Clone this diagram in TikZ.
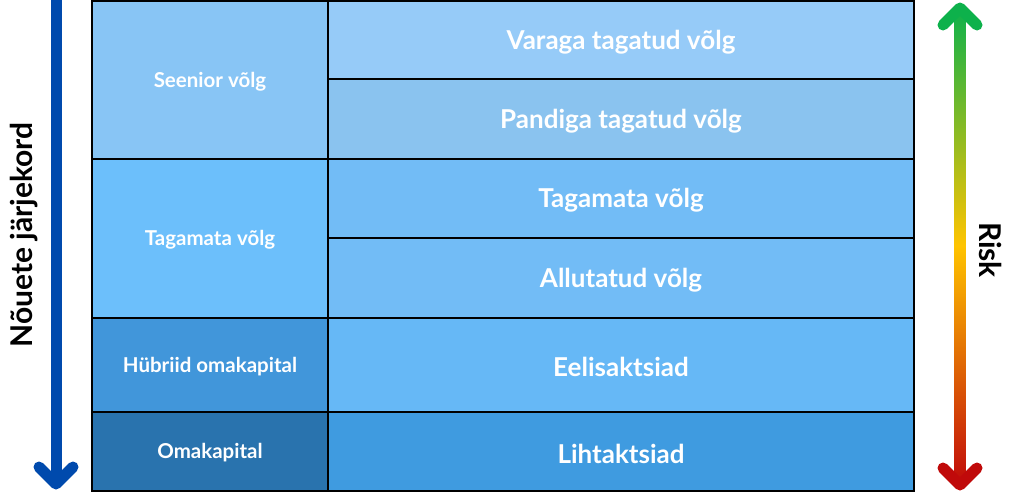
\documentclass[tikz,border=0pt]{standalone}
\usepackage{fontspec}
\setmainfont{Lato}
\definecolor{cVar}{HTML}{96CBF8}
\definecolor{cPan}{HTML}{8AC3EF}
\definecolor{cSen}{HTML}{88C5F5}
\definecolor{cTagL}{HTML}{6CBFFB}
\definecolor{cTagR}{HTML}{72BCF6}
\definecolor{cAll}{HTML}{72BCF6}
\definecolor{cEel}{HTML}{66B8F6}
\definecolor{cHub}{HTML}{4196DA}
\definecolor{cOma}{HTML}{2973AE}
\definecolor{cLiht}{HTML}{3F9BE0}
\definecolor{arrBlue}{HTML}{004AAD}
\definecolor{rGreen}{HTML}{0DB14B}
\definecolor{rYellow}{HTML}{FFC400}
\definecolor{rRed}{HTML}{C00A0A}
\tikzset{
  cell/.style={draw=black, line width=2pt, inner sep=0pt, outer sep=0pt, anchor=north west, text=white, font=\bfseries},
  bigtxt/.style={font=\bfseries\fontsize{26}{30}\selectfont, yshift=-2pt},
  smalltxt/.style={font=\bfseries\fontsize{20.5}{24}\selectfont, yshift=-1.5pt},
  sidetxt/.style={font=\bfseries\fontsize{30}{34}\selectfont, text=black, inner sep=0pt},
  arrline/.style={line width=11pt, line cap=round, line join=round},
}
\begin{document}
\begin{tikzpicture}[x=1pt,y=-1pt]
\useasboundingbox (0,0) rectangle (1015,493);
\fill[white] (0,0) rectangle (1015,493);
% left column
\node[cell, fill=cSen, minimum width=236pt, minimum height=158pt] (sen) at (92,1) {};
\node[cell, fill=cTagL, minimum width=236pt, minimum height=159pt] (tagl) at (92,159) {};
\node[cell, fill=cHub, minimum width=236pt, minimum height=94pt] (hub) at (92,318) {};
\node[cell, fill=cOma, minimum width=236pt, minimum height=79pt] (oma) at (92,412) {};
% right column
\node[cell, fill=cVar, minimum width=586pt, minimum height=78pt] (var) at (328,1) {};
\node[cell, fill=cPan, minimum width=586pt, minimum height=80pt] (pan) at (328,79) {};
\node[cell, fill=cTagR, minimum width=586pt, minimum height=79pt] (tagr) at (328,159) {};
\node[cell, fill=cAll, minimum width=586pt, minimum height=80pt] (all) at (328,238) {};
\node[cell, fill=cEel, minimum width=586pt, minimum height=94pt] (eel) at (328,318) {};
\node[cell, fill=cLiht, minimum width=586pt, minimum height=79pt] (liht) at (328,412) {};
% texts
\node[smalltxt, text=white] (tsen) at (sen.center) {Seenior võlg};
\node[smalltxt, text=white] (ttagl) at (tagl.center) {Tagamata võlg};
\node[smalltxt, text=white] (thub) at (hub.center) {Hübriid omakapital};
\node[smalltxt, text=white] (toma) at (oma.center) {Omakapital};
\node[bigtxt, text=white] (tvar) at (var.center) {Varaga tagatud võlg};
\node[bigtxt, text=white] (tpan) at (pan.center) {Pandiga tagatud võlg};
\node[bigtxt, text=white] (ttagr) at (tagr.center) {Tagamata võlg};
\node[bigtxt, text=white] (tall) at (all.center) {Allutatud võlg};
\node[bigtxt, text=white] (teel) at (eel.center) {Eelisaktsiad};
\node[bigtxt, text=white] (tliht) at (liht.center) {Lihtaktsiad};
% left arrow
\coordinate (la) at (56,-10);
\coordinate (lb) at (56,484);
\coordinate (lbl) at (39,467);
\coordinate (lbr) at (73,467);
\draw[arrline, draw=arrBlue, line cap=butt] (la) -- (lb);
\draw[arrline, draw=arrBlue] (lbl) -- (lb) -- (lbr);
\node[sidetxt, rotate=90] (nou) at (24,235) {Nõuete järjekord};
% right arrow
\coordinate (ra) at (960,8);
\coordinate (rb) at (960,485);
\coordinate (ral) at (943,25);
\coordinate (rar) at (977,25);
\coordinate (rbl) at (943,468);
\coordinate (rbr) at (977,468);
\shade[top color=rGreen, bottom color=rYellow] (954.5,8) rectangle (965.5,246);
\shade[top color=rYellow, bottom color=rRed] (954.5,245.5) rectangle (965.5,485);
\draw[arrline, draw=rGreen] (ral) -- (ra) -- (rar);
\draw[arrline, draw=rRed] (rbl) -- (rb) -- (rbr);
\node[sidetxt, rotate=-90] (risk) at (991,250) {Risk};
\end{tikzpicture}
\end{document}
